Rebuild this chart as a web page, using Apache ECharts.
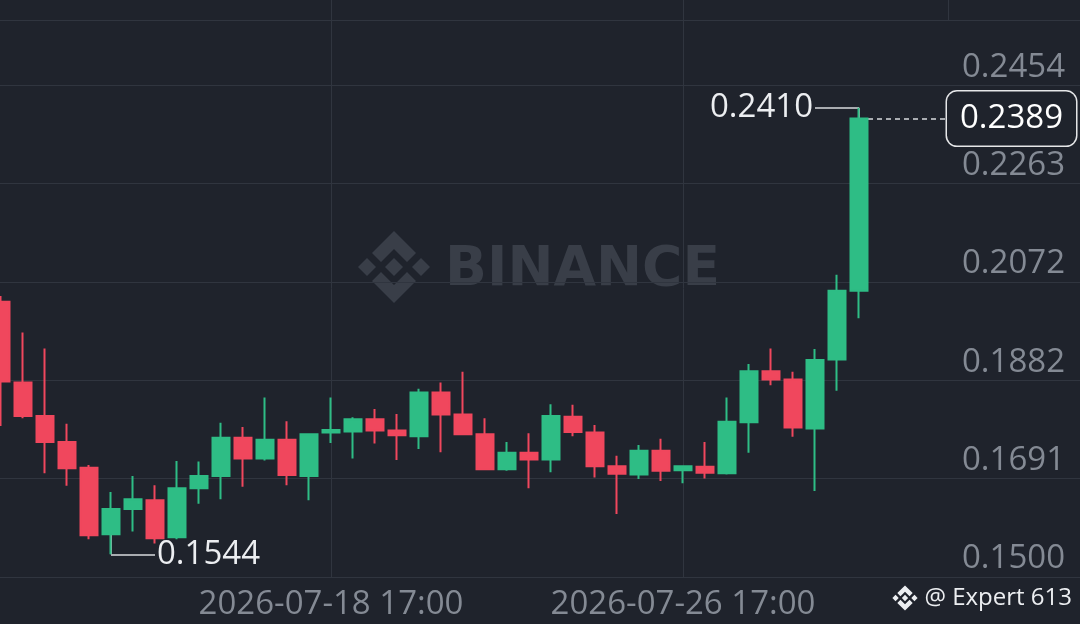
<!DOCTYPE html>
<html>
<head>
<meta charset="utf-8">
<script src="https://cdn.jsdelivr.net/npm/echarts@6/dist/echarts.min.js"></script>
<style>
  html, body { margin: 0; padding: 0; background: #1f232c; }
  #chart { width: 1080px; height: 624px; }
</style>
</head>
<body>
<div id="chart"></div>
<script>
// 12h candles; last ten slots are empty future space on the right
const categories = [
  '2026-07-11 05:00','2026-07-11 17:00','2026-07-12 05:00','2026-07-12 17:00','2026-07-13 05:00',
  '2026-07-13 17:00','2026-07-14 05:00','2026-07-14 17:00','2026-07-15 05:00','2026-07-15 17:00',
  '2026-07-16 05:00','2026-07-16 17:00','2026-07-17 05:00','2026-07-17 17:00','2026-07-18 05:00',
  '2026-07-18 17:00','2026-07-19 05:00','2026-07-19 17:00','2026-07-20 05:00','2026-07-20 17:00',
  '2026-07-21 05:00','2026-07-21 17:00','2026-07-22 05:00','2026-07-22 17:00','2026-07-23 05:00',
  '2026-07-23 17:00','2026-07-24 05:00','2026-07-24 17:00','2026-07-25 05:00','2026-07-25 17:00',
  '2026-07-26 05:00','2026-07-26 17:00','2026-07-27 05:00','2026-07-27 17:00','2026-07-28 05:00',
  '2026-07-28 17:00','2026-07-29 05:00','2026-07-29 17:00','2026-07-30 05:00','2026-07-30 17:00',
  '2026-07-31 05:00','2026-07-31 17:00','2026-08-01 05:00','2026-08-01 17:00','2026-08-02 05:00',
  '2026-08-02 17:00','2026-08-03 05:00','2026-08-03 17:00','2026-08-04 05:00','2026-08-04 17:00'
];

const openV = [
  0.2034, 0.1877, 0.1812, 0.1762, 0.1712, 0.1583, 0.1632, 0.1649, 0.1577, 0.1672,
  0.1696, 0.1770, 0.1730, 0.1766, 0.1696, 0.1780, 0.1782, 0.1806, 0.1784, 0.1773,
  0.1858, 0.1815, 0.1777, 0.1709, 0.1741, 0.1728, 0.1811, 0.1780, 0.1715, 0.1699,
  0.1745, 0.1707, 0.1714, 0.1701, 0.1800, 0.1899, 0.1883, 0.1788, 0.1922, 0.2055
];
const closeV = [
  0.1879, 0.1812, 0.1762, 0.1711, 0.1581, 0.1632, 0.1651, 0.1575, 0.1672, 0.1696,
  0.1770, 0.1730, 0.1766, 0.1698, 0.1777, 0.1785, 0.1806, 0.1784, 0.1775, 0.1858,
  0.1815, 0.1777, 0.1709, 0.1741, 0.1728, 0.1812, 0.1781, 0.1715, 0.1700, 0.1745,
  0.1706, 0.1715, 0.1702, 0.1801, 0.1899, 0.1883, 0.1790, 0.1921, 0.2055, 0.2389
];
const lowV = [
  0.1793, 0.1808, 0.1701, 0.1677, 0.1573, 0.1544, 0.1588, 0.1565, 0.1573, 0.1642,
  0.1651, 0.1675, 0.1726, 0.1678, 0.1649, 0.1760, 0.1730, 0.1759, 0.1727, 0.1748,
  0.1742, 0.1775, 0.1708, 0.1706, 0.1672, 0.1703, 0.1773, 0.1693, 0.1622, 0.1690,
  0.1686, 0.1682, 0.1691, 0.1699, 0.1741, 0.1872, 0.1772, 0.1667, 0.1861, 0.2002
];
const highV = [
  0.2045, 0.1974, 0.1943, 0.1797, 0.1717, 0.1665, 0.1696, 0.1678, 0.1725, 0.1724,
  0.1799, 0.1791, 0.1848, 0.1802, 0.1778, 0.1848, 0.1810, 0.1826, 0.1816, 0.1865,
  0.1877, 0.1898, 0.1808, 0.1762, 0.1779, 0.1835, 0.1834, 0.1795, 0.1735, 0.1756,
  0.1768, 0.1715, 0.1762, 0.1848, 0.1913, 0.1943, 0.1898, 0.1942, 0.2086, 0.2410
];

const yTickLabels = ['0.1500', '0.1691', '0.1882', '0.2072', '0.2263', '0.2454'];
const xLabelIndices = [15, 31];

// ---- derived ----
const candleData = openV.map((o, i) => [o, closeV[i], lowV[i], highV[i]]);
const lastIdx = closeV.length - 1;
const lastPrice = closeV[lastIdx];
const hiVal = Math.max(...highV);
const hiIdx = highV.indexOf(hiVal);
const loVal = Math.min(...lowV);
const loIdx = lowV.indexOf(loVal);

const UP = '#2ebd85', DOWN = '#f0475d';
const GRID = '#30353f', AXIS_TXT = '#848a94', WHITE = '#eceef1', WM = '#393e48';
const FONT = '"Open Sans"';

const showX = (idx) => xLabelIndices.indexOf(idx) >= 0;

function logo(cx, cy, s, fill, z) {
  const P = (pts) => ({ type: 'polygon', shape: { points: pts.map(p => [p[0] * s, p[1] * s]) }, style: { fill: fill } });
  return {
    type: 'group', x: cx, y: cy, z: z, silent: true,
    children: [
      P([[0,-9],[9,0],[0,9],[-9,0]]),
      P([[-27,-9],[-18,0],[-27,9],[-36,0]]),
      P([[27,-9],[36,0],[27,9],[18,0]]),
      P([[0,-36],[22,-14],[13,-5],[0,-18],[-13,-5],[-22,-14]]),
      P([[0,36],[22,14],[13,5],[0,18],[-13,5],[-22,14]])
    ]
  };
}

const markerLine = { color: '#d9dbde', width: 1.5, type: 'solid' };
const markerLabel = { color: WHITE, fontSize: 33, fontFamily: FONT, distance: 2 };

const option = {
  backgroundColor: '#1f232c',
  animation: false,
  grid: [
    { left: 1, right: 1, top: 0, bottom: 47 },
    { left: 0, right: 0, top: 20, bottom: 47 }
  ],
  xAxis: [
    {
      type: 'category', gridIndex: 0, data: categories, boundaryGap: false,
      axisLine: { show: false }, axisTick: { show: false },
      axisLabel: {
        interval: (idx) => showX(idx),
        color: AXIS_TXT, fontSize: 33, fontFamily: FONT, margin: 11, lineHeight: 34
      },
      splitLine: { show: true, interval: (idx) => showX(idx), lineStyle: { color: GRID, width: 1 } }
    },
    { type: 'value', gridIndex: 1, show: false, min: 0, max: 1 }
  ],
  yAxis: [
    { type: 'value', gridIndex: 0, min: 0.15, max: 0.2619, show: false },
    {
      type: 'value', gridIndex: 1, position: 'right', min: 0.15, max: 0.2580, interval: 0.0190755,
      axisLine: { show: false }, axisTick: { show: false },
      splitLine: { show: true, lineStyle: { color: GRID, width: 1 } },
      axisLabel: {
        inside: true, margin: 15, showMaxLabel: false, showMinLabel: true,
        verticalAlign: 'bottom', lineHeight: 36,
        color: AXIS_TXT, fontSize: 33, fontFamily: FONT,
        formatter: (v, i) => (yTickLabels[i] !== undefined ? yTickLabels[i] : '')
      }
    }
  ],
  series: [
    {
      type: 'candlestick', xAxisIndex: 0, yAxisIndex: 0,
      data: candleData,
      barWidth: 17,
      itemStyle: { color: UP, color0: DOWN, borderColor: UP, borderColor0: DOWN, borderWidth: 2 },
      markLine: {
        silent: true, symbol: ['none', 'none'], animation: false, z: 1,
        data: [
          // period high marker
          [{ coord: [hiIdx, hiVal], lineStyle: markerLine, label: { show: false } }, { coord: [hiIdx, closeV[hiIdx]] }],
          [{ coord: [hiIdx, hiVal], lineStyle: markerLine,
             label: Object.assign({ show: true, position: 'end', formatter: hiVal.toFixed(4) }, markerLabel) },
           { coord: [hiIdx - 2, hiVal] }],
          // period low marker
          [{ coord: [loIdx, Math.min(openV[loIdx], closeV[loIdx])], lineStyle: markerLine, label: { show: false } }, { coord: [loIdx, loVal] }],
          [{ coord: [loIdx, loVal], lineStyle: markerLine,
             label: Object.assign({ show: true, position: 'end', formatter: loVal.toFixed(4) }, markerLabel) },
           { coord: [loIdx + 2, loVal] }],
          // last price dashed line + boxed label
          [{ coord: [lastIdx, lastPrice],
             lineStyle: { color: '#d9dbde', width: 1.5, type: [5, 4] },
             label: {
               show: true, position: 'end', distance: 0, formatter: lastPrice.toFixed(4),
               color: '#ffffff', fontSize: 33, fontFamily: FONT, lineHeight: 38,
               backgroundColor: '#1f232c', borderColor: '#e6e7e9', borderWidth: 1.5, borderRadius: 10,
               padding: [8, 13, 8, 13]
             } },
           { coord: [lastIdx + 4, lastPrice] }]
        ]
      }
    }
  ],
  graphic: [
    logo(394, 267, 1, WM, -1),
    { type: 'text', x: 445, y: 271, z: -1, silent: true,
      style: { text: 'BINANCE', fill: WM, fontSize: 55, fontWeight: 'bold', fontFamily: 'DejaVu Sans', verticalAlign: 'middle', align: 'left' } },
    { type: 'line', z: -1, silent: true, shape: { x1: 948.5, y1: 0, x2: 948.5, y2: 20 }, style: { stroke: GRID, lineWidth: 1 } },
    logo(905, 598, 0.35, WHITE, 10),
    { type: 'text', x: 1072, y: 598, z: 10, silent: true,
      style: { text: '@ Expert 613', fill: WHITE, fontSize: 24, fontFamily: FONT, verticalAlign: 'middle', align: 'right' } }
  ]
};

const chart = echarts.init(document.getElementById('chart'), null, { renderer: 'canvas' });
chart.setOption(option);
</script>
</body>
</html>
